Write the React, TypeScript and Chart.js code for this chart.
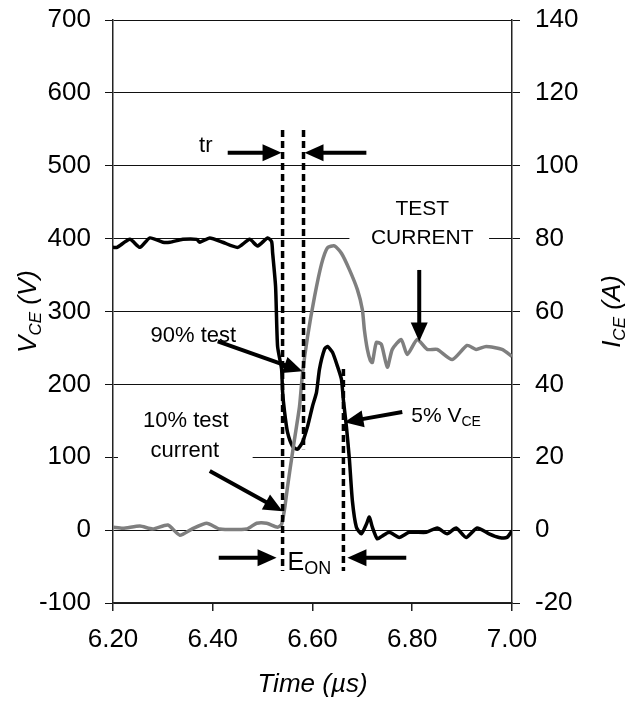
import React, { useEffect, useRef } from 'react';
import { Chart, registerables } from 'chart.js';

Chart.register(...registerables);

const FONT = "'Liberation Sans', Arial, Helvetica, sans-serif";

// ---- data (time in µs) ----
const vceTime = [
  6.2, 6.208, 6.234, 6.254, 6.274, 6.3, 6.314, 6.34, 6.368, 6.374, 6.394, 6.42, 6.45, 6.474, 6.49, 6.51, 6.518,
  6.52, 6.526, 6.53, 6.538, 6.54, 6.544, 6.55, 6.56, 6.57, 6.58, 6.59, 6.6, 6.608, 6.614, 6.624, 6.63, 6.64,
  6.65, 6.658, 6.662, 6.668, 6.674, 6.68, 6.688, 6.698, 6.708, 6.714, 6.72, 6.73, 6.74, 6.754, 6.774, 6.794,
  6.828, 6.85, 6.87, 6.888, 6.908, 6.93, 6.954, 6.974, 6.99, 7.0,
];
const vceVolts = [
  388, 388, 399, 388, 401, 395, 395, 399, 399, 395, 401, 395, 388, 399, 390, 401, 396,
  381, 334, 252, 221, 190, 162, 134, 115, 111, 121, 142, 170, 189, 221, 248, 252, 244,
  225, 207, 178, 142, 97, 40, 4, -5, 8, 18, 4, -12, -8, -3, -10, -3,
  -3, 3, -5, 3, -10, 3, -5, -10, -10, -1,
];
const iceTime = [
  6.2, 6.22, 6.254, 6.28, 6.31, 6.334, 6.358, 6.388, 6.414, 6.468, 6.488, 6.508, 6.53, 6.538, 6.544, 6.55,
  6.558, 6.564, 6.574, 6.58, 6.59, 6.604, 6.618, 6.63, 6.644, 6.658, 6.674, 6.69, 6.7, 6.704, 6.71, 6.716,
  6.72, 6.728, 6.738, 6.75, 6.76, 6.778, 6.79, 6.81, 6.83, 6.85, 6.88, 6.91, 6.928, 6.948, 6.98, 7.0,
];
const iceAmps = [
  0.8, 0.5, 1.1, 0.3, 1.4, -1.4, 0.3, 1.9, 0.3, 0.3, 1.9, 1.9, 0.8, 1.6, 5.8, 12,
  19.5, 25, 34, 43, 53, 64, 73, 77.5, 78, 76, 71.5, 66, 60.5, 55, 49.6, 46.5,
  46, 51.5, 51, 44.7, 49.6, 52.3, 48.2, 52.3, 49.6, 49.6, 46.8, 50.7, 49.6, 50.4, 49.6, 47.7,
];
const xTicks = [6.2, 6.4, 6.6, 6.8, 7.0];
const vTicks = [-100, 0, 100, 200, 300, 400, 500, 600, 700];
const iTicks = [-20, 0, 20, 40, 60, 80, 100, 120, 140];

// ---- annotations (time µs, volts) ----
const markerTimes = [6.54, 6.582, 6.662];
const markerTops = [549, 549, 221];
const markerBottoms = [-56, 111, -56];
// [t1, v1, t2, v2] : arrow from (t1,v1) to tip (t2,v2)
const arrows = [
  [6.43, 518, 6.538, 518],
  [6.708, 518, 6.584, 518],
  [6.412, -38, 6.528, -38],
  [6.788, -38, 6.67, -38],
  [6.41, 259, 6.58, 218],
  [6.394, 81, 6.54, 26],
  [6.78, 162, 6.664, 148],
  [6.814, 357, 6.814, 259],
];
// [t1, t2, vTop, vBottom] white boxes behind labels
const maskBoxes = [
  [6.674, 6.954, 467, 385],
  [6.21, 6.48, 173, 86],
];
// centred labels: [text, t, baseline volts, size]
const labels: [string, number, number, number][] = [
  ['tr', 6.386, 519, 22],
  ['90% test', 6.361, 257.5, 22],
  ['10% test', 6.346, 141, 22],
  ['current', 6.344, 100, 22],
  ['TEST', 6.82, 433, 21],
  ['CURRENT', 6.82, 392, 21],
];

type Run = { t: string; size: number; dy: number };

function drawRuns(ctx: CanvasRenderingContext2D, x: number, y: number, runs: Run[], italic: boolean, align: 'left' | 'center') {
  let total = 0;
  const widths = runs.map((r) => {
    ctx.font = `${italic ? 'italic ' : ''}${r.size}px ${FONT}`;
    const w = ctx.measureText(r.t).width;
    total += w;
    return w;
  });
  let cx = align === 'center' ? x - total / 2 : x;
  ctx.textAlign = 'left';
  ctx.textBaseline = 'alphabetic';
  runs.forEach((r, i) => {
    ctx.font = `${italic ? 'italic ' : ''}${r.size}px ${FONT}`;
    ctx.fillText(r.t, cx, y + r.dy);
    cx += widths[i];
  });
}

function drawArrow(ctx: CanvasRenderingContext2D, x1: number, y1: number, x2: number, y2: number) {
  const headLen = 19;
  const headW = 17;
  const ang = Math.atan2(y2 - y1, x2 - x1);
  const bx = x2 - headLen * Math.cos(ang);
  const by = y2 - headLen * Math.sin(ang);
  ctx.lineWidth = 4;
  ctx.lineCap = 'butt';
  ctx.beginPath();
  ctx.moveTo(x1, y1);
  ctx.lineTo(bx + Math.cos(ang), by + Math.sin(ang));
  ctx.stroke();
  ctx.beginPath();
  ctx.moveTo(x2, y2);
  ctx.lineTo(bx + (headW / 2) * Math.sin(ang), by - (headW / 2) * Math.cos(ang));
  ctx.lineTo(bx - (headW / 2) * Math.sin(ang), by + (headW / 2) * Math.cos(ang));
  ctx.closePath();
  ctx.fill();
}

const overlay = {
  id: 'overlay',
  beforeDatasetsDraw(chart: any) {
    const { ctx } = chart;
    const xs = chart.scales.x;
    const ys = chart.scales.y;
    ctx.save();
    ctx.fillStyle = '#ffffff';
    for (const b of maskBoxes) {
      const x1 = xs.getPixelForValue(b[0]);
      const x2 = xs.getPixelForValue(b[1]);
      const y1 = ys.getPixelForValue(b[2]);
      const y2 = ys.getPixelForValue(b[3]);
      ctx.fillRect(x1, y1, x2 - x1, y2 - y1);
    }
    ctx.restore();
  },
  afterDatasetsDraw(chart: any) {
    const { ctx } = chart;
    const xs = chart.scales.x;
    const ys = chart.scales.y;
    const px = (t: number) => xs.getPixelForValue(t);
    const py = (v: number) => ys.getPixelForValue(v);
    ctx.save();
    ctx.strokeStyle = '#000';
    ctx.fillStyle = '#000';
    // dashed marker lines
    ctx.lineWidth = 3.5;
    ctx.setLineDash([7, 4]);
    markerTimes.forEach((t, i) => {
      ctx.beginPath();
      ctx.moveTo(px(t), py(markerTops[i]));
      ctx.lineTo(px(t), py(markerBottoms[i]));
      ctx.stroke();
    });
    ctx.setLineDash([]);
    // arrows
    for (const a of arrows) drawArrow(ctx, px(a[0]), py(a[1]), px(a[2]), py(a[3]));
    // labels
    for (const [text, t, v, size] of labels) {
      drawRuns(ctx, px(t), py(v), [{ t: text, size, dy: 0 }], false, 'center');
    }
    drawRuns(ctx, px(6.798), py(148), [
      { t: '5% V', size: 21, dy: 0 },
      { t: 'CE', size: 14, dy: 4 },
    ], false, 'left');
    drawRuns(ctx, px(6.55), py(-55), [
      { t: 'E', size: 25, dy: 0 },
      { t: 'ON', size: 18, dy: 4 },
    ], false, 'left');
    ctx.restore();
  },
  afterDraw(chart: any) {
    const { ctx, chartArea } = chart;
    const cy = (chartArea.top + chartArea.bottom) / 2;
    ctx.save();
    ctx.fillStyle = '#000';
    const drawTitle = (cx: number, main: string, sub: string, tail: string) => {
      ctx.save();
      ctx.translate(cx, cy);
      ctx.rotate(-Math.PI / 2);
      drawRuns(ctx, 0, 9, [
        { t: main, size: 26, dy: 0 },
        { t: sub, size: 17, dy: 5 },
        { t: tail, size: 26, dy: 0 },
      ], true, 'center');
      ctx.restore();
    };
    drawTitle(chart.scales.y.left + 27, 'V', 'CE', ' (V)');
    drawTitle(chart.scales.y2.right - 25, 'I', 'CE', ' (A)');
    ctx.restore();
  },
};

export default function App() {
  const ref = useRef<HTMLCanvasElement | null>(null);
  useEffect(() => {
    document.body.style.margin = '0';
    const canvas = ref.current;
    if (!canvas) return;
    const tickFont = { family: FONT, size: 26 };
    const fitVertical = (w: number) => (s: any) => {
      s.width = w;
      s.paddingTop = 0;
      s.paddingBottom = 0;
    };
    const chart = new Chart(canvas, {
      type: 'line',
      data: {
        datasets: [
          {
            label: 'ICE',
            data: iceTime.map((t, i) => ({ x: t, y: iceAmps[i] })),
            yAxisID: 'y2',
            borderColor: '#7f7f7f',
            borderWidth: 3.5,
            pointRadius: 0,
            tension: 0.2,
            fill: false,
          },
          {
            label: 'VCE',
            data: vceTime.map((t, i) => ({ x: t, y: vceVolts[i] })),
            yAxisID: 'y',
            borderColor: '#000000',
            borderWidth: 3.5,
            pointRadius: 0,
            tension: 0.2,
            fill: false,
          },
        ],
      },
      options: {
        responsive: false,
        animation: false,
        devicePixelRatio: 1,
        layout: { padding: { top: 20, left: 0, right: 0, bottom: 0 } },
        plugins: { legend: { display: false }, tooltip: { enabled: false } },
        scales: {
          x: {
            type: 'linear',
            position: 'bottom',
            min: 6.2,
            max: 7.0,
            afterBuildTicks: (s: any) => { s.ticks = xTicks.map((v) => ({ value: v })); },
            afterFit: (s: any) => { s.height = 102; s.paddingLeft = 0; s.paddingRight = 0; },
            ticks: {
              font: tickFont,
              color: '#000',
              padding: 13,
              maxRotation: 0,
              autoSkip: false,
              callback: (v: any) => Number(v).toFixed(2),
            },
            grid: { drawOnChartArea: false, drawTicks: true, tickLength: 8, color: '#222', lineWidth: 1.5 },
            border: { display: true, color: '#222', width: 1.5 },
            title: {
              display: true,
              text: 'Time (µs)',
              color: '#000',
              font: { family: FONT, size: 26, style: 'italic' },
              padding: { top: 0, bottom: 5 },
            },
          },
          y: {
            type: 'linear',
            position: 'left',
            min: -100,
            max: 700,
            afterBuildTicks: (s: any) => { s.ticks = vTicks.map((v) => ({ value: v })); },
            afterFit: fitVertical(113),
            ticks: { font: tickFont, color: '#000', padding: 14 },
            grid: { color: '#111', lineWidth: 1, tickLength: 8 },
            border: { display: true, color: '#222', width: 1.5 },
          },
          y2: {
            type: 'linear',
            position: 'right',
            min: -20,
            max: 140,
            afterBuildTicks: (s: any) => { s.ticks = iTicks.map((v) => ({ value: v })); },
            afterFit: fitVertical(124),
            ticks: { font: tickFont, color: '#000', padding: 15 },
            grid: { drawOnChartArea: false, color: '#111', lineWidth: 1, tickLength: 8 },
            border: { display: true, color: '#222', width: 1.5 },
          },
        },
      },
      plugins: [overlay],
    });
    return () => chart.destroy();
  }, []);
  return (
    <div style={{ width: 636, height: 705 }}>
      <canvas ref={ref} width={636} height={705} style={{ display: 'block' }} />
    </div>
  );
}
